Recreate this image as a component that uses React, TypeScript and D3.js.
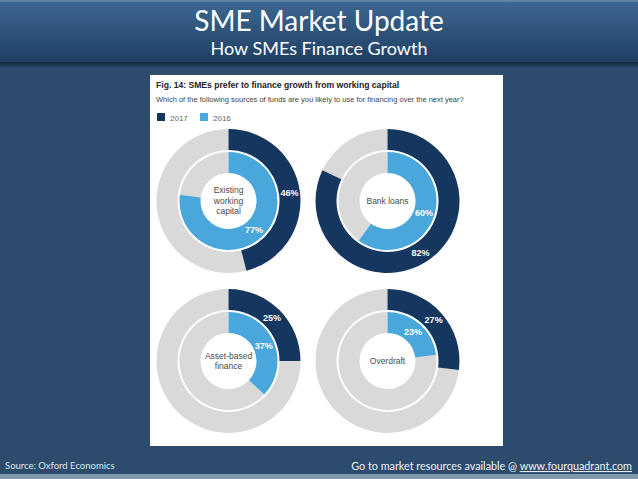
import React from "react";
import * as d3 from "d3";

const categories = ["Existing working capital", "Bank loans", "Asset-based finance", "Overdraft"];
const centerLabels = [["Existing", "working", "capital"], ["Bank loans"], ["Asset-based", "finance"], ["Overdraft"]];
const values2017 = [46, 82, 25, 27];
const values2016 = [77, 60, 37, 23];
const years = ["2017", "2016"];

const W = 638, H = 479;
const NAVY = "#15365f", LIGHT = "#49a7db", GREY = "#d9d9d9";

export default function App() {
  const angle = d3.scaleLinear().domain([0, 100]).range([0, 2 * Math.PI]);
  const outerArc = d3.arc<any>().innerRadius(51).outerRadius(72);
  const innerArc = d3.arc<any>().innerRadius(28).outerRadius(49);
  const colX = d3.scalePoint<number>().domain([0, 1]).range([228.5, 387.5]);
  const rowY = d3.scalePoint<number>().domain([0, 1]).range([201, 361]);

  const donuts = categories.map((c, i) => {
    const cx = colX(i % 2)!, cy = rowY(Math.floor(i / 2))!;
    const v17 = values2017[i], v16 = values2016[i];
    const oA = { startAngle: 0, endAngle: angle(v17) };
    const oB = { startAngle: angle(v17), endAngle: angle(100) };
    const iA = { startAngle: 0, endAngle: angle(v16) };
    const iB = { startAngle: angle(v16), endAngle: angle(100) };
    const oC = outerArc.centroid(oA as any);
    const iC = innerArc.centroid(iA as any);
    const lines = centerLabels[i];
    return (
      <g key={c} transform={`translate(${cx},${cy})`}>
        <path d={outerArc(oB as any)!} fill={GREY} />
        <path d={outerArc(oA as any)!} fill={NAVY} />
        <path d={innerArc(iB as any)!} fill={GREY} />
        <path d={innerArc(iA as any)!} fill={LIGHT} />
        <text x={oC[0]} y={oC[1]} dy="0.35em" textAnchor="middle" fill="#fff" fontSize={9} fontWeight="bold" fontFamily="Liberation Sans, Arial, sans-serif">{v17}%</text>
        <text x={iC[0]} y={iC[1]} dy="0.35em" textAnchor="middle" fill="#fff" fontSize={9} fontWeight="bold" fontFamily="Liberation Sans, Arial, sans-serif">{v16}%</text>
        {lines.map((l, k) => (
          <text key={k} x={0} y={(k - (lines.length - 1) / 2) * 10.5} dy="0.35em" textAnchor="middle" fill="#4a4a4a" fontSize={8.5} fontFamily="Liberation Sans, Arial, sans-serif">{l}</text>
        ))}
      </g>
    );
  });

  return (
    <svg width={W} height={H} style={{ position: "absolute", left: 0, top: 0, display: "block" }}>
      <defs>
        <linearGradient id="hdr" x1="0" y1="0" x2="0" y2="1">
          <stop offset="0" stopColor="#3d6893" />
          <stop offset="1" stopColor="#1f3f63" />
        </linearGradient>
        <linearGradient id="shadow" x1="0" y1="0" x2="0" y2="1">
          <stop offset="0" stopColor="#15273d" />
          <stop offset="1" stopColor="#2d4b6c" />
        </linearGradient>
      </defs>
      <rect x={0} y={0} width={W} height={H} fill="#2d4b6c" />
      <rect x={0} y={62} width={W} height={6} fill="url(#shadow)" />
      <rect x={0} y={0} width={W} height={62} fill="url(#hdr)" />
      <rect x={0} y={0} width={W} height={2} fill="#5f83a8" />
      <text x={319} y={31} textAnchor="middle" fill="#fff" fontSize={28} fontFamily="Lato, sans-serif">SME Market Update</text>
      <text x={319} y={55} textAnchor="middle" fill="#fff" fontSize={18} fontFamily="Lato, sans-serif">How SMEs Finance Growth</text>

      <rect x={150} y={75} width={353} height={371} fill="#fff" />
      <text x={156} y={88} fill="#222" fontSize={8.6} fontWeight="bold" fontFamily="Liberation Sans, Arial, sans-serif">Fig. 14: SMEs prefer to finance growth from working capital</text>
      <text x={156} y={102} fill="#444" fontSize={7.5} fontFamily="Liberation Sans, Arial, sans-serif">Which of the following sources of funds are you likely to use for financing over the next year?</text>
      {years.map((y, i) => (
        <g key={y} transform={`translate(${157 + i * 43},113)`}>
          <rect x={0} y={0} width={8} height={8} fill={i === 0 ? NAVY : LIGHT} />
          <text x={13} y={7.5} fill="#666" fontSize={8} fontFamily="Liberation Sans, Arial, sans-serif">{y}</text>
        </g>
      ))}
      {donuts}

      <rect x={0} y={474} width={W} height={5} fill="#7f97b0" />
      <text x={5} y={469} fill="#dfe6ee" fontSize={9.5} fontFamily="Lato, sans-serif">Source: Oxford Economics</text>
      <text x={632} y={470} textAnchor="end" fill="#eef2f6" fontSize={10.8} fontFamily="Lato, sans-serif">
        Go to market resources available @ <tspan textDecoration="underline">www.fourquadrant.com</tspan>
      </text>
    </svg>
  );
}
